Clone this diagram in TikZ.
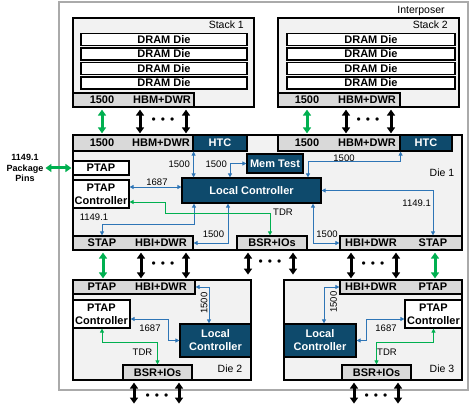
\documentclass[tikz,border=0pt]{standalone}
\usepackage{fontspec}
\setmainfont{Liberation Sans}
\usetikzlibrary{arrows.meta}
\definecolor{boxblue}{RGB}{14,74,108}
\definecolor{lineblue}{RGB}{46,117,182}
\definecolor{pingreen}{RGB}{0,176,80}
\definecolor{bargray}{RGB}{217,217,217}
\definecolor{diefill}{RGB}{242,242,242}
\definecolor{ipgray}{RGB}{170,170,170}

\begin{document}
\begin{tikzpicture}[x=1pt,y=-1pt]
    \tikzstyle{every node}=[inner sep=0pt]
    \tikzstyle{lab} = [font=\fontsize{9.5}{11}\selectfont]
    \tikzstyle{big} = [font=\fontsize{10.5}{12}\selectfont]
    \tikzstyle{bt} = [font=\fontsize{11}{13}\selectfont\bfseries, align=center]
    \tikzstyle{pin} = [font=\fontsize{9}{10.5}\selectfont\bfseries, align=center]
    \tikzstyle{die} = [draw, line width=1.2pt, fill=diefill]
    \tikzstyle{bar} = [draw, line width=1.2pt, fill=bargray]
    \tikzstyle{wb} = [draw, line width=1.2pt, fill=white, bt]
    \tikzstyle{db} = [draw, line width=1.2pt, fill=boxblue, text=white, bt]
    \tikzstyle{bl} = [draw=lineblue, line width=0.8pt, {Triangle[length=4pt,width=4pt]}-{Triangle[length=4pt,width=4pt]}]
    \tikzstyle{gn} = [draw=pingreen, line width=0.8pt, {Triangle[length=4pt,width=4pt]}-{Triangle[length=4pt,width=4pt]}]
    \tikzstyle{bk} = [draw, line width=3pt, {Triangle[length=6pt,width=8pt]}-{Triangle[length=6pt,width=8pt]}, shorten <=2pt, shorten >=1pt]
    \tikzstyle{ga} = [bk, draw=pingreen]
    \tikzstyle{dd} = [font=\fontsize{12}{12}\selectfont]
    \useasboundingbox (0,0) rectangle (474,414);

    \node [draw=ipgray, line width=1.5pt, fill=white, minimum width=409, minimum height=388] (ip) at (263.5,196) {};
    \node [big] (iplab) at (421,11) {Interposer};

    \node [die, minimum width=181, minimum height=89] (stack1) at (163.5,62.5) {};
    \node [big, anchor=east] (st1lab) at (244,25) {Stack 1};
    \node [wb, minimum width=166, minimum height=12] (dram11) at (164,39.5) {DRAM Die};
    \node [wb, minimum width=166, minimum height=12] (dram12) at (164,54) {DRAM Die};
    \node [wb, minimum width=166, minimum height=12] (dram13) at (164,68.5) {DRAM Die};
    \node [wb, minimum width=166, minimum height=12] (dram14) at (164,83) {DRAM Die};
    \node [bar, minimum width=121, minimum height=14] (s1bar) at (133.5,100) {};
    \node [bt] (s1a) at (102,100) {1500};
    \node [bt] (s1b) at (162,100) {HBM+DWR};

    \node [die, minimum width=181, minimum height=89] (stack2) at (368.5,62.5) {};
    \node [big, anchor=east] (st2lab) at (448,25) {Stack 2};
    \node [wb, minimum width=168, minimum height=12] (dram21) at (371,39.5) {DRAM Die};
    \node [wb, minimum width=168, minimum height=12] (dram22) at (371,54) {DRAM Die};
    \node [wb, minimum width=168, minimum height=12] (dram23) at (371,68.5) {DRAM Die};
    \node [wb, minimum width=168, minimum height=12] (dram24) at (371,83) {DRAM Die};
    \node [bar, minimum width=122, minimum height=14] (s2bar) at (339,100) {};
    \node [bt] (s2a) at (307,100) {1500};
    \node [bt] (s2b) at (367,100) {HBM+DWR};

    \node [die, minimum width=389, minimum height=115] (die1) at (267.5,192.5) {};
    \node [big] (d1lab) at (442,173) {Die 1};
    \node [bar, minimum width=120, minimum height=16] (d1bar1) at (133,143) {};
    \node [bt] (d1a) at (102,143) {1500};
    \node [bt] (d1b) at (161,143) {HBM+DWR};
    \node [db, minimum width=54, minimum height=16] (htc1) at (220,143) {HTC};
    \node [bar, minimum width=122, minimum height=16] (d1bar2) at (339,143) {};
    \node [bt] (d1c) at (307,143) {1500};
    \node [bt] (d1d) at (367,143) {HBM+DWR};
    \node [db, minimum width=52, minimum height=16] (htc2) at (426,143) {HTC};
    \node [wb, minimum width=56, minimum height=14] (ptap1) at (101,168) {PTAP};
    \node [wb, minimum width=56, minimum height=28] (ptapc1) at (101,194) {PTAP\\Controller};
    \node [db, minimum width=139, minimum height=25] (lc1) at (251.5,190.5) {Local Controller};
    \node [db, minimum width=56, minimum height=19] (memtest) at (275,163.5) {Mem Test};
    \node [bar, minimum width=120, minimum height=14] (stap1) at (133,243) {};
    \node [bt] (stap1a) at (102,243) {STAP};
    \node [bt] (stap1b) at (161,243) {HBI+DWR};
    \node [bar, bt, minimum width=70, minimum height=14] (bsr1) at (272,243) {BSR+IOs};
    \node [bar, minimum width=122, minimum height=14] (stap2) at (401,243) {};
    \node [bt] (stap2a) at (371,243) {HBI+DWR};
    \node [bt] (stap2b) at (433,243) {STAP};

    \node [pin] (pins) at (25,168) {1149.1\\Package\\Pins};
    \draw [ga] (pins.east) -- (ptap1.west);

    \draw [bl] (d1bar1.south east) -- (d1bar1.south east |- lc1.north);
    \node [lab, anchor=east] (la) at (190,164) {1500};
    \draw [bl] ([xshift=-21.5pt]lc1.north) |- (memtest.west);
    \node [lab, anchor=east] (lb) at (227,164) {1500};
    \draw [bl] (d1bar2.south east) -- ++(0,10) -| ([xshift=56.5pt]lc1.north);
    \node [lab] (lc) at (344,158) {1500};
    \draw [bl] (lc1.east) -| ([xshift=32pt]stap2.north);
    \node [lab, anchor=east] (ld) at (431,203) {1149.1};
    \draw [bl] ([xshift=61.5pt]lc1.south) |- (stap2.west);
    \node [lab] (le) at (327,234) {1500};
    \draw [bl] ([xshift=-23.5pt]lc1.south) |- (stap1.east);
    \node [lab] (lf) at (213.5,234) {1500};
    \draw [bl] ([xshift=-57.5pt]lc1.south) -- ++(0,21) -| ([xshift=-31pt]stap1.north);
    \node [lab] (lg) at (94,217) {1149.1};
    \draw [bl] ([yshift=7pt]ptapc1.east) -- ([yshift=3.5pt]lc1.west);
    \node [lab] (lh) at (157,182) {1687};
    \draw [gn] ([yshift=-8pt]ptapc1.east) -- ++(36,0) -- ++(0,11) -| ([xshift=-2pt]bsr1.north);
    \node [lab] (li) at (283,212) {TDR};

    \node [die, minimum width=178, minimum height=100] (die2) at (162,330) {};
    \node [big] (d2lab) at (230,369) {Die 2};
    \node [bar, minimum width=122, minimum height=14] (d2bar) at (134,287) {};
    \node [bt] (d2a) at (102,287) {PTAP};
    \node [bt] (d2b) at (161,287) {HBI+DWR};
    \node [wb, minimum width=57, minimum height=28] (ptapc2) at (101.5,314) {PTAP\\Controller};
    \node [db, minimum width=71, minimum height=33] (lc2) at (215.5,340.5) {Local\\Controller};
    \node [bar, bt, minimum width=69, minimum height=15] (bsr2) at (157.5,372.5) {BSR+IOs};
    \draw [bl] (d2bar.east) -| ([xshift=-6.5pt]lc2.north);
    \node [lab, rotate=90] (lj) at (204,303) {1500};
    \draw [bl] ([yshift=-5pt]ptapc2.east) -- ++(38,0) |- (lc2.west);
    \node [lab] (lk) at (150,328) {1687};
    \draw [gn] ([xshift=0.5pt]ptapc2.south) -- ++(0,14) -| (bsr2.north);
    \node [lab] (ll) at (142.5,352) {TDR};

    \node [die, minimum width=178, minimum height=100] (die3) at (373,330) {};
    \node [big] (d3lab) at (442,369) {Die 3};
    \node [bar, minimum width=122, minimum height=14] (d3bar) at (401,287) {};
    \node [bt] (d3a) at (371,287) {HBI+DWR};
    \node [bt] (d3b) at (433,287) {PTAP};
    \node [wb, minimum width=57, minimum height=28] (ptapc3) at (433.5,314) {PTAP\\Controller};
    \node [db, minimum width=72, minimum height=33] (lc3) at (320,340.5) {Local\\Controller};
    \node [bar, bt, minimum width=69, minimum height=15] (bsr3) at (376.5,372.5) {BSR+IOs};
    \draw [bl] (d3bar.west) -| ([xshift=4pt]lc3.north);
    \node [lab, rotate=90] (lm) at (333.5,302) {1500};
    \draw [bl] (lc3.east) -- ++(10,0) |- ([yshift=-5pt]ptapc3.west);
    \node [lab] (ln) at (386,328) {1687};
    \draw [gn] (ptapc3.south) -- ++(0,14) -| (bsr3.north);
    \node [lab] (lo) at (387,352) {TDR};

    \draw [ga] ([xshift=-31.5pt]s1bar.south) -- ([xshift=-31pt]d1bar1.north);
    \draw [bk] ([xshift=6.5pt]s1bar.south) -- ([xshift=7pt]d1bar1.north);
    \draw [bk] ([xshift=52.5pt]s1bar.south) -- ([xshift=53pt]d1bar1.north);
    \node [dd] (dots1) at (163,121) {\textbullet\hspace{5pt}\textbullet\hspace{5pt}\textbullet};
    \draw [ga] ([xshift=-32pt]s2bar.south) -- ([xshift=-32pt]d1bar2.north);
    \draw [bk] ([xshift=7pt]s2bar.south) -- ([xshift=7pt]d1bar2.north);
    \draw [bk] ([xshift=52pt]s2bar.south) -- ([xshift=52pt]d1bar2.north);
    \node [dd] (dots2) at (368,121) {\textbullet\hspace{5pt}\textbullet\hspace{5pt}\textbullet};

    \draw [ga] ([xshift=-30pt]stap1.south) -- ([xshift=-31pt]d2bar.north);
    \draw [bk] ([xshift=8pt]stap1.south) -- ([xshift=7pt]d2bar.north);
    \draw [bk] ([xshift=53pt]stap1.south) -- ([xshift=52pt]d2bar.north);
    \node [dd] (dots3) at (163,265) {\textbullet\hspace{5pt}\textbullet\hspace{5pt}\textbullet};
    \draw [bk] ([xshift=-24pt]bsr1.south) -- ++(0,25);
    \draw [bk] ([xshift=21pt]bsr1.south) -- ++(0,25);
    \node [dd] (dots4) at (270,263) {\textbullet\hspace{5pt}\textbullet\hspace{5pt}\textbullet};
    \draw [bk] ([xshift=-50pt]stap2.south) -- ([xshift=-50pt]d3bar.north);
    \draw [bk] ([xshift=-5pt]stap2.south) -- ([xshift=-5pt]d3bar.north);
    \draw [ga] ([xshift=34pt]stap2.south) -- ([xshift=34pt]d3bar.north);
    \node [dd] (dots5) at (373,265) {\textbullet\hspace{5pt}\textbullet\hspace{5pt}\textbullet};

    \draw [bk] ([xshift=-23.5pt]bsr2.south) -- ++(0,24);
    \draw [bk] ([xshift=21.5pt]bsr2.south) -- ++(0,24);
    \node [dd] (dots6) at (157,397) {\textbullet\hspace{5pt}\textbullet\hspace{5pt}\textbullet};
    \draw [bk] ([xshift=-22.5pt]bsr3.south) -- ++(0,24);
    \draw [bk] ([xshift=21.5pt]bsr3.south) -- ++(0,24);
    \node [dd] (dots7) at (376,397) {\textbullet\hspace{5pt}\textbullet\hspace{5pt}\textbullet};
  \end{tikzpicture}
\end{document}
